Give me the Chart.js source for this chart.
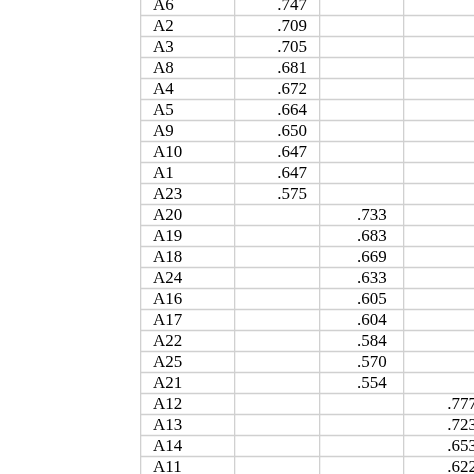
<!DOCTYPE html>
<html>
<head>
<script src="https://cdn.jsdelivr.net/npm/chart.js@4"></script>
<style>html,body{margin:0;padding:0;background:#fff}#c{display:block}</style>
</head>
<body>
<div style="width:474px;height:474px"><canvas id="c"></canvas></div>
<script>
const items = ['A6','A2','A3','A8','A4','A5','A9','A10','A1','A23','A20','A19','A18','A24','A16','A17','A22','A25','A21','A12','A13','A14','A11'];
const factor1 = ['.747','.709','.705','.681','.672','.664','.650','.647','.647','.575'];
const factor2 = ['.733','.683','.669','.633','.605','.604','.584','.570','.554'];
const factor3 = ['.777','.723','.653','.622'];

const colX = [175, 289, 370, 462];
const colLines = [135, 231, 317, 402];

function pts(list, offset, x) {
    return list.map((t, i) => ({ x: x, y: offset + i, t: t }));
}
const datasets = [
    { data: items.map((t, i) => ({ x: colX[0], y: i, t: t })), align: 'left' },
    { data: pts(factor1, 0, colX[1]) },
    { data: pts(factor2, factor1.length, colX[2]) },
    { data: pts(factor3, factor1.length + factor2.length, colX[3]) },
].map(d => Object.assign({ pointRadius: 0 }, d));

const textPlugin = {
    id: 'cellText',
    beforeDatasetsDraw(chart) {
        // row separators only span the table, starting at the first column line
        const ctx = chart.ctx;
        const xs = chart.scales.x, ys = chart.scales.y;
        ctx.save();
        ctx.strokeStyle = '#d0d0d0';
        ctx.lineWidth = 1.3;
        items.forEach((_, i) => {
            const y = ys.getPixelForValue(i + 0.5);
            ctx.beginPath();
            ctx.moveTo(xs.getPixelForValue(colLines[0]), y);
            ctx.lineTo(chart.chartArea.right, y);
            ctx.stroke();
        });
        ctx.restore();
    },
    afterDatasetsDraw(chart) {
        const ctx = chart.ctx;
        ctx.save();
        ctx.fillStyle = '#000';
        ctx.font = '17px "Liberation Serif"';
        ctx.textBaseline = 'middle';
        chart.data.datasets.forEach((ds, di) => {
            chart.getDatasetMeta(di).data.forEach((el, i) => {
                ctx.textAlign = ds.align === 'left' ? 'left' : 'center';
                const x = ds.align === 'left' ? el.x - 27 : el.x;
                ctx.fillText(ds.data[i].t, x, el.y + 1);
            });
        });
        ctx.restore();
    }
};

new Chart(document.getElementById('c'), {
    type: 'scatter',
    data: { datasets },
    options: {
        responsive: true,
        maintainAspectRatio: false,
        animation: false,
        layout: { padding: 0 },
        plugins: { legend: { display: false }, tooltip: { enabled: false } },
        scales: {
            x: {
                type: 'linear', min: 0, max: 474,
                afterBuildTicks: s => { s.ticks = colLines.map(v => ({ value: v })); },
                ticks: { display: false },
                border: { display: false },
                grid: { color: '#d0d0d0', lineWidth: 1.3, drawTicks: false }
            },
            y: {
                type: 'linear', reverse: true, min: -5 / 21, max: -5 / 21 + 474 / 21,
                ticks: { display: false },
                border: { display: false },
                grid: { display: false }
            }
        }
    },
    plugins: [textPlugin]
});
</script>
</body>
</html>
